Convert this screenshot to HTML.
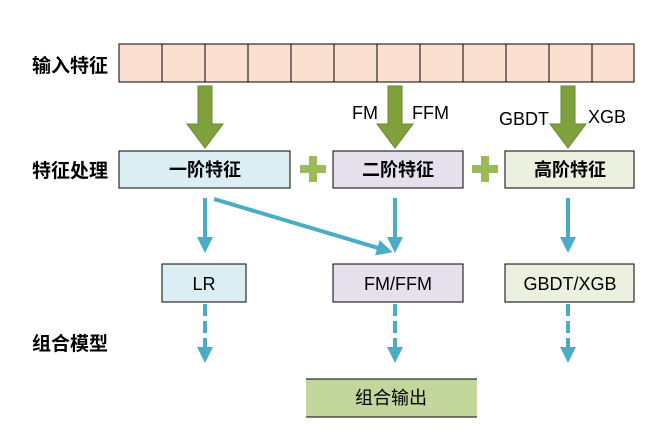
<!DOCTYPE html>
<html><head><meta charset="utf-8"><style>
body{margin:0;width:648px;height:429px;background:#fff;overflow:hidden;font-family:"Liberation Sans","Noto Sans CJK SC",sans-serif}
</style></head><body>
<svg width="648" height="429" xmlns="http://www.w3.org/2000/svg" font-family="Liberation Sans, Noto Sans CJK SC, sans-serif">
<defs>
<marker id="ba" markerWidth="4" markerHeight="4" refX="2" refY="2" orient="auto" markerUnits="strokeWidth"><path d="M0,0 L4,2 L0,4 z" fill="#4bacc6"/></marker>
</defs>
<g font-weight="bold" font-size="19" fill="#000">
<text x="32" y="72">输入特征</text>
<text x="32" y="177">特征处理</text>
<text x="32" y="350">组合模型</text>
</g>
<rect x="119" y="44" width="515" height="38" fill="#fbe0d1" stroke="#000" stroke-width="1"/>
<g stroke="#000" stroke-width="1">
<line x1="162" y1="44" x2="162" y2="82"/><line x1="205" y1="44" x2="205" y2="82"/><line x1="248" y1="44" x2="248" y2="82"/><line x1="291" y1="44" x2="291" y2="82"/><line x1="334" y1="44" x2="334" y2="82"/><line x1="377" y1="44" x2="377" y2="82"/><line x1="420" y1="44" x2="420" y2="82"/><line x1="463" y1="44" x2="463" y2="82"/><line x1="506" y1="44" x2="506" y2="82"/><line x1="549" y1="44" x2="549" y2="82"/><line x1="592" y1="44" x2="592" y2="82"/>
</g>
<g fill="#80a03c" stroke="#6a8a30" stroke-width="1">
<path d="M198,86 h14 v38 h11 l-18,24 l-18,-24 h11z"/>
<path d="M388,86 h14 v38 h11 l-18,24 l-18,-24 h11z"/>
<path d="M561,86 h14 v38 h11 l-18,24 l-18,-24 h11z"/>
</g>
<g font-size="18" fill="#000">
<text x="352" y="119">FM</text><text x="412" y="119">FFM</text>
<text x="499" y="125">GBDT</text><text x="588" y="123">XGB</text>
</g>
<rect x="119" y="151" width="171" height="37" fill="#dbeef4" stroke="#000"/>
<rect x="333" y="151" width="130" height="37" fill="#e5e0ec" stroke="#000"/>
<rect x="505" y="151" width="129" height="37" fill="#ebf1de" stroke="#000"/>
<g font-weight="bold" font-size="18" text-anchor="middle">
<text x="205" y="176">一阶特征</text><text x="398" y="176">二阶特征</text><text x="570" y="176">高阶特征</text>
</g>
<g fill="#9bbb59">
<path d="M300,165 h9 v-9 h8 v9 h9 v8 h-9 v9 h-8 v-9 h-9z"/>
<path d="M472,165 h9 v-9 h8 v9 h9 v8 h-9 v9 h-8 v-9 h-9z"/>
</g>
<g stroke="#4bacc6" stroke-width="4" fill="none">
<line x1="205" y1="198" x2="205" y2="245" marker-end="url(#ba)"/>
<line x1="395" y1="198" x2="395" y2="245" marker-end="url(#ba)"/>
<line x1="568" y1="198" x2="568" y2="245" marker-end="url(#ba)"/>
<line x1="214" y1="199" x2="385" y2="250" marker-end="url(#ba)"/>
<line x1="205" y1="304" x2="205" y2="355" stroke-dasharray="12,5" marker-end="url(#ba)"/>
<line x1="395" y1="304" x2="395" y2="355" stroke-dasharray="12,5" marker-end="url(#ba)"/>
<line x1="568" y1="304" x2="568" y2="355" stroke-dasharray="12,5" marker-end="url(#ba)"/>
</g>
<rect x="162" y="264" width="84" height="38" fill="#dbeef4" stroke="#000"/>
<rect x="333" y="264" width="130" height="38" fill="#e5e0ec" stroke="#000"/>
<rect x="505" y="264" width="129" height="38" fill="#ebf1de" stroke="#000"/>
<g font-size="18" text-anchor="middle">
<text x="204" y="290">LR</text><text x="398" y="290">FM/FFM</text><text x="570" y="290">GBDT/XGB</text>
</g>
<rect x="306" y="379" width="171" height="38" fill="#c3d69b"/>
<line x1="306" y1="379" x2="477" y2="379" stroke="#000"/>
<line x1="306" y1="417" x2="477" y2="417" stroke="#000"/>
<text x="391" y="404" font-size="18" text-anchor="middle">组合输出</text>
</svg>
</body></html>
